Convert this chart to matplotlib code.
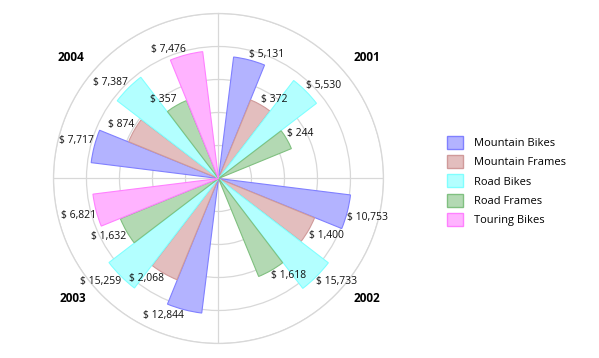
import numpy as np
import matplotlib.pyplot as plt
from matplotlib.patches import Patch

years = ["2001", "2002", "2003", "2004"]
products = ["Mountain Bikes", "Mountain Frames", "Road Bikes", "Road Frames", "Touring Bikes"]
mountain_bikes = [5131, 10753, 12844, 7717]
mountain_frames = [372, 1400, 2068, 874]
road_bikes = [5530, 15733, 15259, 7387]
road_frames = [244, 1618, 1632, 357]
touring_bikes = [None, None, 6821, 7476]
series = [mountain_bikes, mountain_frames, road_bikes, road_frames, touring_bikes]

face_colors = ["#b3b3ff", "#e3bebe", "#b3ffff", "#b3d9b3", "#ffb3ff"]
edge_colors = ["#8080ff", "#d09a9a", "#80ffff", "#80c080", "#ff80ff"]

plt.rcParams['font.family'] = ['Open Sans', 'DejaVu Sans']

fig = plt.figure(figsize=(5.99, 3.58), dpi=100)
ax = fig.add_axes([0.0893, 0.0405, 0.5509, 0.9218], projection='polar')
ax.set_theta_zero_location('N')
ax.set_theta_direction(-1)
ax.set_rscale('log')
ax.set_rlim(1, 1e5)

step = np.deg2rad(15.2)
width = np.deg2rad(15.0)
for i, (name, vals) in enumerate(zip(products, series)):
    for q, v in enumerate(vals):
        if v is None:
            continue
        theta = np.deg2rad(90 * q + 45) + (i - 2) * step
        ax.bar(theta, v - 1, width=width, bottom=1, color=face_colors[i],
               edgecolor=edge_colors[i], linewidth=0.8, zorder=3)
        # math angle, used for label alignment
        ang = np.pi / 2 - theta
        ha = 'left' if np.cos(ang) > 0 else 'right'
        va = 'bottom' if np.sin(ang) > 0 else 'top'
        ax.text(theta, v, r"\$ {:,}".format(v), ha=ha, va=va, fontsize=7.5,
                color='#111111', zorder=4, clip_on=False)

# year labels sit outside the rings, in the quadrant corners
year_pos = [(0.950, 0.868), (0.950, 0.135), (0.060, 0.135), (0.053, 0.868)]
for yr, (xa, ya) in zip(years, year_pos):
    ax.text(xa, ya, yr, transform=ax.transAxes, ha='center', va='center',
            fontsize=8.5, fontweight='bold', clip_on=False)

ax.set_yticks([10, 100, 1000, 10000, 100000])
ax.set_yticklabels([])
ax.set_xticks(np.deg2rad([0, 90, 180, 270]))
ax.set_xticklabels([])
ax.grid(True, color='#d8d8d8', linewidth=0.9)
ax.spines['polar'].set_color('#d8d8d8')
ax.spines['polar'].set_linewidth(0.9)
ax.set_axisbelow(True)

handles = [Patch(facecolor=face_colors[i], edgecolor=edge_colors[i], label=p)
           for i, p in enumerate(products)]
fig.legend(handles=handles, loc='upper left', bbox_to_anchor=(0.738, 0.633),
           frameon=False, fontsize=8, handlelength=1.45, handleheight=1.4,
           labelspacing=0.56, handletextpad=1.0, borderaxespad=0)

fig.savefig("out.png", dpi=100)
